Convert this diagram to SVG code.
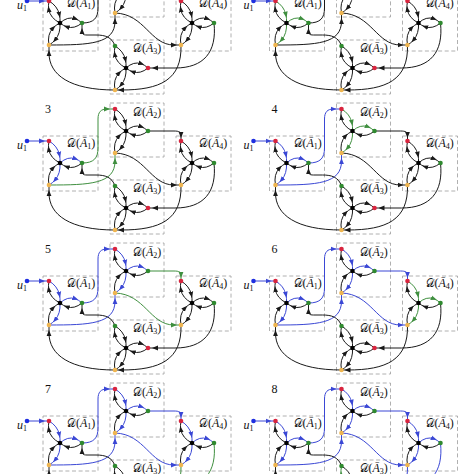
<svg xmlns="http://www.w3.org/2000/svg" width="474" height="474" viewBox="0 0 474 474">
<style>
path{fill:none;stroke-width:1}
.k{stroke:#1a1a1a;marker-end:url(#mk)}
.b{stroke:#3a47d5;marker-end:url(#mb)}
.g{stroke:#3f8f3f;marker-end:url(#mg)}
.box{fill:none;stroke:#9c9c9c;stroke-width:0.8;stroke-dasharray:4 2.6}
.lab{font-family:"Liberation Serif",serif;font-size:12px;fill:#111}
.num{font-family:"Liberation Serif",serif;font-size:12px;fill:#111;text-anchor:middle}
.cal{font-family:"DejaVu Serif","Noto Sans",serif;font-style:normal;font-size:11px}
.it{font-style:italic}
.nr{fill:#d9243e}.ng{fill:#2f8a2f}.ny{fill:#efb550}.nc{fill:#000}.nu{fill:#1f2fe0}
</style>
<defs>
<marker id="mk" viewBox="0 0 10 10" refX="5" refY="5" markerWidth="6" markerHeight="6" orient="auto" markerUnits="userSpaceOnUse"><polygon points="0,1 10,5 0,9" fill="#1a1a1a"/></marker>
<marker id="mb" viewBox="0 0 10 10" refX="5" refY="5" markerWidth="6" markerHeight="6" orient="auto" markerUnits="userSpaceOnUse"><polygon points="0,1 10,5 0,9" fill="#3a47d5"/></marker>
<marker id="mg" viewBox="0 0 10 10" refX="5" refY="5" markerWidth="6" markerHeight="6" orient="auto" markerUnits="userSpaceOnUse"><polygon points="0,1 10,5 0,9" fill="#3f8f3f"/></marker>
<g id="tc"><path d="M-11,-22 Q-2.6,-17.1 -0.57,-8.28"/><path d="M-0.57,-8.28 Q0.3,-4.5 0,0" marker-end="none"/></g>
<g id="ct"><path d="M0,0 Q-9.8,-4.9 -11.27,-13.72"/><path d="M-11.27,-13.72 Q-11.9,-17.5 -11,-22" marker-end="none"/></g>
<g id="cr"><path d="M0,0 Q7.7,-7 15.4,-4.2"/><path d="M15.4,-4.2 Q18.7,-3 22,0" marker-end="none"/></g>
<g id="rc"><path d="M22,0 Q14.3,6.3 6.6,3.78"/><path d="M6.6,3.78 Q3.3,2.7 0,0" marker-end="none"/></g>
<g id="bc"><path d="M-11,22 Q-13.1,11.5 -6.87,4.92"/><path d="M-6.87,4.92 Q-4.2,2.1 0,0" marker-end="none"/></g>
<g id="cb"><path d="M0,0 Q0.7,10.5 -4.97,17.08"/><path d="M-4.97,17.08 Q-7.4,19.9 -11,22" marker-end="none"/></g>
<g id="e1"><path d="M27,1 L42,1"/><path d="M42,1 L49,1" marker-end="none"/></g>
<g id="e2"><path d="M82,23 C94,23 98,18 98,8 L98,-21 C98,-28 101,-31 107,-31"/><path d="M107,-31 L115,-31" marker-end="none"/></g>
<g id="e3"><path d="M49,45 C90,45 115,44 115,21"/><path d="M115,21 L115,13" marker-end="none"/></g>
<g id="e4"><path d="M115,46 C112,37 105,35 96,35 L87,35 C83,35 82,34 82,31"/><path d="M82,31 L82,23" marker-end="none"/></g>
<g id="e5"><path d="M148,-9 L174,-9 C179,-9 181,-8 181,-5"/><path d="M181,-5 L181,1" marker-end="none"/></g>
<g id="e6"><path d="M115,13 C145,14 150,45 174,45"/><path d="M174,45 L181,45" marker-end="none"/></g>
<g id="e7"><path d="M214,23 C217,52 204,68 175,68 L155,68"/><path d="M155,68 L148,68" marker-end="none"/></g>
<g id="e8"><path d="M181,45 C182,80 160,90 121,90"/><path d="M121,90 L115,90" marker-end="none"/></g>
<g id="e9"><path d="M115,90 C70,90 49,75 49,53"/><path d="M49,53 L49,45" marker-end="none"/></g>
<g id="frames"><rect class="box" x="43" y="-4" width="55" height="55"/><rect class="box" x="110" y="-37" width="54" height="54"/><rect class="box" x="176" y="-4" width="55" height="55"/><rect class="box" x="110" y="40" width="54" height="54"/></g>
</defs>

<g id="panel1">
<use href="#frames"/>
<g id="p1-connectors">
<use href="#e1" class="b"/><use href="#e2" class="k"/><use href="#e3" class="k"/><use href="#e4" class="k"/><use href="#e5" class="k"/><use href="#e6" class="k"/><use href="#e7" class="k"/><use href="#e8" class="k"/><use href="#e9" class="k"/>
<use href="#tc" x="60" y="23" class="k"/><use href="#ct" x="60" y="23" class="k"/><use href="#cr" x="60" y="23" class="k"/><use href="#rc" x="60" y="23" class="k"/><use href="#bc" x="60" y="23" class="k"/><use href="#cb" x="60" y="23" class="k"/>
<use href="#tc" x="126" y="-9" class="k"/><use href="#ct" x="126" y="-9" class="k"/><use href="#cr" x="126" y="-9" class="k"/><use href="#rc" x="126" y="-9" class="k"/><use href="#bc" x="126" y="-9" class="k"/><use href="#cb" x="126" y="-9" class="k"/>
<use href="#tc" x="192" y="23" class="k"/><use href="#ct" x="192" y="23" class="k"/><use href="#cr" x="192" y="23" class="k"/><use href="#rc" x="192" y="23" class="k"/><use href="#bc" x="192" y="23" class="k"/><use href="#cb" x="192" y="23" class="k"/>
<use href="#tc" x="126" y="68" class="k"/><use href="#ct" x="126" y="68" class="k"/><use href="#cr" x="126" y="68" class="k"/><use href="#rc" x="126" y="68" class="k"/><use href="#bc" x="126" y="68" class="k"/><use href="#cb" x="126" y="68" class="k"/>
</g>
<g id="p1-u1"><circle class="nu" cx="27" cy="1" r="2.3"/><text class="lab" x="17" y="9"><tspan class="it">u</tspan><tspan font-size="8" dy="1.5">1</tspan></text></g>
<g id="p1-A1"><circle class="nr" cx="49" cy="1" r="2.3"/><circle class="nc" cx="60" cy="23" r="2.3"/><circle class="ng" cx="82" cy="23" r="2.3"/><circle class="ny" cx="49" cy="45" r="2.3"/><text class="lab" x="67" y="7"><tspan class="cal">𝒟</tspan>(<tspan class="it">Ā</tspan><tspan font-size="8" dy="2">1</tspan><tspan dy="-2">)</tspan></text></g>
<g id="p1-A2"><circle class="nr" cx="115" cy="-31" r="2.3"/><circle class="nc" cx="126" cy="-9" r="2.3"/><circle class="ng" cx="148" cy="-9" r="2.3"/><circle class="ny" cx="115" cy="13" r="2.3"/></g>
<g id="p1-A4"><circle class="nr" cx="181" cy="1" r="2.3"/><circle class="nc" cx="192" cy="23" r="2.3"/><circle class="ng" cx="214" cy="23" r="2.3"/><circle class="ny" cx="181" cy="45" r="2.3"/><text class="lab" x="199" y="7"><tspan class="cal">𝒟</tspan>(<tspan class="it">Ā</tspan><tspan font-size="8" dy="2">4</tspan><tspan dy="-2">)</tspan></text></g>
<g id="p1-A3"><circle class="ng" cx="115" cy="46" r="2.3"/><circle class="nc" cx="126" cy="68" r="2.3"/><circle class="nr" cx="148" cy="68" r="2.3"/><circle class="ny" cx="115" cy="90" r="2.3"/><text class="lab" x="133" y="52"><tspan class="cal">𝒟</tspan>(<tspan class="it">Ā</tspan><tspan font-size="8" dy="2">3</tspan><tspan dy="-2">)</tspan></text></g>
</g>

<g id="panel2" transform="translate(226.5,0)">
<use href="#frames"/>
<g id="p2-connectors">
<use href="#e1" class="b"/><use href="#e2" class="k"/><use href="#e3" class="k"/><use href="#e4" class="k"/><use href="#e5" class="k"/><use href="#e6" class="k"/><use href="#e7" class="k"/><use href="#e8" class="k"/><use href="#e9" class="k"/>
<use href="#tc" x="60" y="23" class="g"/><use href="#ct" x="60" y="23" class="k"/><use href="#cr" x="60" y="23" class="g"/><use href="#rc" x="60" y="23" class="k"/><use href="#bc" x="60" y="23" class="k"/><use href="#cb" x="60" y="23" class="g"/>
<use href="#tc" x="126" y="-9" class="k"/><use href="#ct" x="126" y="-9" class="k"/><use href="#cr" x="126" y="-9" class="k"/><use href="#rc" x="126" y="-9" class="k"/><use href="#bc" x="126" y="-9" class="k"/><use href="#cb" x="126" y="-9" class="k"/>
<use href="#tc" x="192" y="23" class="k"/><use href="#ct" x="192" y="23" class="k"/><use href="#cr" x="192" y="23" class="k"/><use href="#rc" x="192" y="23" class="k"/><use href="#bc" x="192" y="23" class="k"/><use href="#cb" x="192" y="23" class="k"/>
<use href="#tc" x="126" y="68" class="k"/><use href="#ct" x="126" y="68" class="k"/><use href="#cr" x="126" y="68" class="k"/><use href="#rc" x="126" y="68" class="k"/><use href="#bc" x="126" y="68" class="k"/><use href="#cb" x="126" y="68" class="k"/>
</g>
<g id="p2-u1"><circle class="nu" cx="27" cy="1" r="2.3"/><text class="lab" x="17" y="9"><tspan class="it">u</tspan><tspan font-size="8" dy="1.5">1</tspan></text></g>
<g id="p2-A1"><circle class="nr" cx="49" cy="1" r="2.3"/><circle class="nc" cx="60" cy="23" r="2.3"/><circle class="ng" cx="82" cy="23" r="2.3"/><circle class="ny" cx="49" cy="45" r="2.3"/><text class="lab" x="67" y="7"><tspan class="cal">𝒟</tspan>(<tspan class="it">Ā</tspan><tspan font-size="8" dy="2">1</tspan><tspan dy="-2">)</tspan></text></g>
<g id="p2-A2"><circle class="nr" cx="115" cy="-31" r="2.3"/><circle class="nc" cx="126" cy="-9" r="2.3"/><circle class="ng" cx="148" cy="-9" r="2.3"/><circle class="ny" cx="115" cy="13" r="2.3"/></g>
<g id="p2-A4"><circle class="nr" cx="181" cy="1" r="2.3"/><circle class="nc" cx="192" cy="23" r="2.3"/><circle class="ng" cx="214" cy="23" r="2.3"/><circle class="ny" cx="181" cy="45" r="2.3"/><text class="lab" x="199" y="7"><tspan class="cal">𝒟</tspan>(<tspan class="it">Ā</tspan><tspan font-size="8" dy="2">4</tspan><tspan dy="-2">)</tspan></text></g>
<g id="p2-A3"><circle class="ng" cx="115" cy="46" r="2.3"/><circle class="nc" cx="126" cy="68" r="2.3"/><circle class="nr" cx="148" cy="68" r="2.3"/><circle class="ny" cx="115" cy="90" r="2.3"/><text class="lab" x="133" y="52"><tspan class="cal">𝒟</tspan>(<tspan class="it">Ā</tspan><tspan font-size="8" dy="2">3</tspan><tspan dy="-2">)</tspan></text></g>
</g>

<g id="panel3" transform="translate(0,140)">
<text class="num" x="48" y="-27">3</text>
<use href="#frames"/>
<g id="p3-connectors">
<use href="#e1" class="b"/><use href="#e2" class="g"/><use href="#e3" class="g"/><use href="#e4" class="k"/><use href="#e5" class="k"/><use href="#e6" class="k"/><use href="#e7" class="k"/><use href="#e8" class="k"/><use href="#e9" class="k"/>
<use href="#tc" x="60" y="23" class="b"/><use href="#ct" x="60" y="23" class="k"/><use href="#cr" x="60" y="23" class="b"/><use href="#rc" x="60" y="23" class="k"/><use href="#bc" x="60" y="23" class="k"/><use href="#cb" x="60" y="23" class="b"/>
<use href="#tc" x="126" y="-9" class="k"/><use href="#ct" x="126" y="-9" class="k"/><use href="#cr" x="126" y="-9" class="k"/><use href="#rc" x="126" y="-9" class="k"/><use href="#bc" x="126" y="-9" class="k"/><use href="#cb" x="126" y="-9" class="k"/>
<use href="#tc" x="192" y="23" class="k"/><use href="#ct" x="192" y="23" class="k"/><use href="#cr" x="192" y="23" class="k"/><use href="#rc" x="192" y="23" class="k"/><use href="#bc" x="192" y="23" class="k"/><use href="#cb" x="192" y="23" class="k"/>
<use href="#tc" x="126" y="68" class="k"/><use href="#ct" x="126" y="68" class="k"/><use href="#cr" x="126" y="68" class="k"/><use href="#rc" x="126" y="68" class="k"/><use href="#bc" x="126" y="68" class="k"/><use href="#cb" x="126" y="68" class="k"/>
</g>
<g id="p3-u1"><circle class="nu" cx="27" cy="1" r="2.3"/><text class="lab" x="17" y="9"><tspan class="it">u</tspan><tspan font-size="8" dy="1.5">1</tspan></text></g>
<g id="p3-A1"><circle class="nr" cx="49" cy="1" r="2.3"/><circle class="nc" cx="60" cy="23" r="2.3"/><circle class="ng" cx="82" cy="23" r="2.3"/><circle class="ny" cx="49" cy="45" r="2.3"/><text class="lab" x="67" y="7"><tspan class="cal">𝒟</tspan>(<tspan class="it">Ā</tspan><tspan font-size="8" dy="2">1</tspan><tspan dy="-2">)</tspan></text></g>
<g id="p3-A2"><circle class="nr" cx="115" cy="-31" r="2.3"/><circle class="nc" cx="126" cy="-9" r="2.3"/><circle class="ng" cx="148" cy="-9" r="2.3"/><circle class="ny" cx="115" cy="13" r="2.3"/><text class="lab" x="133" y="-24"><tspan class="cal">𝒟</tspan>(<tspan class="it">Ā</tspan><tspan font-size="8" dy="2">2</tspan><tspan dy="-2">)</tspan></text></g>
<g id="p3-A4"><circle class="nr" cx="181" cy="1" r="2.3"/><circle class="nc" cx="192" cy="23" r="2.3"/><circle class="ng" cx="214" cy="23" r="2.3"/><circle class="ny" cx="181" cy="45" r="2.3"/><text class="lab" x="199" y="7"><tspan class="cal">𝒟</tspan>(<tspan class="it">Ā</tspan><tspan font-size="8" dy="2">4</tspan><tspan dy="-2">)</tspan></text></g>
<g id="p3-A3"><circle class="ng" cx="115" cy="46" r="2.3"/><circle class="nc" cx="126" cy="68" r="2.3"/><circle class="nr" cx="148" cy="68" r="2.3"/><circle class="ny" cx="115" cy="90" r="2.3"/><text class="lab" x="133" y="52"><tspan class="cal">𝒟</tspan>(<tspan class="it">Ā</tspan><tspan font-size="8" dy="2">3</tspan><tspan dy="-2">)</tspan></text></g>
</g>

<g id="panel4" transform="translate(226.5,140)">
<text class="num" x="48" y="-27">4</text>
<use href="#frames"/>
<g id="p4-connectors">
<use href="#e1" class="b"/><use href="#e2" class="b"/><use href="#e3" class="b"/><use href="#e4" class="k"/><use href="#e5" class="k"/><use href="#e6" class="k"/><use href="#e7" class="k"/><use href="#e8" class="k"/><use href="#e9" class="k"/>
<use href="#tc" x="60" y="23" class="b"/><use href="#ct" x="60" y="23" class="k"/><use href="#cr" x="60" y="23" class="b"/><use href="#rc" x="60" y="23" class="k"/><use href="#bc" x="60" y="23" class="k"/><use href="#cb" x="60" y="23" class="b"/>
<use href="#tc" x="126" y="-9" class="g"/><use href="#ct" x="126" y="-9" class="k"/><use href="#cr" x="126" y="-9" class="g"/><use href="#rc" x="126" y="-9" class="k"/><use href="#bc" x="126" y="-9" class="k"/><use href="#cb" x="126" y="-9" class="g"/>
<use href="#tc" x="192" y="23" class="k"/><use href="#ct" x="192" y="23" class="k"/><use href="#cr" x="192" y="23" class="k"/><use href="#rc" x="192" y="23" class="k"/><use href="#bc" x="192" y="23" class="k"/><use href="#cb" x="192" y="23" class="k"/>
<use href="#tc" x="126" y="68" class="k"/><use href="#ct" x="126" y="68" class="k"/><use href="#cr" x="126" y="68" class="k"/><use href="#rc" x="126" y="68" class="k"/><use href="#bc" x="126" y="68" class="k"/><use href="#cb" x="126" y="68" class="k"/>
</g>
<g id="p4-u1"><circle class="nu" cx="27" cy="1" r="2.3"/><text class="lab" x="17" y="9"><tspan class="it">u</tspan><tspan font-size="8" dy="1.5">1</tspan></text></g>
<g id="p4-A1"><circle class="nr" cx="49" cy="1" r="2.3"/><circle class="nc" cx="60" cy="23" r="2.3"/><circle class="ng" cx="82" cy="23" r="2.3"/><circle class="ny" cx="49" cy="45" r="2.3"/><text class="lab" x="67" y="7"><tspan class="cal">𝒟</tspan>(<tspan class="it">Ā</tspan><tspan font-size="8" dy="2">1</tspan><tspan dy="-2">)</tspan></text></g>
<g id="p4-A2"><circle class="nr" cx="115" cy="-31" r="2.3"/><circle class="nc" cx="126" cy="-9" r="2.3"/><circle class="ng" cx="148" cy="-9" r="2.3"/><circle class="ny" cx="115" cy="13" r="2.3"/><text class="lab" x="133" y="-24"><tspan class="cal">𝒟</tspan>(<tspan class="it">Ā</tspan><tspan font-size="8" dy="2">2</tspan><tspan dy="-2">)</tspan></text></g>
<g id="p4-A4"><circle class="nr" cx="181" cy="1" r="2.3"/><circle class="nc" cx="192" cy="23" r="2.3"/><circle class="ng" cx="214" cy="23" r="2.3"/><circle class="ny" cx="181" cy="45" r="2.3"/><text class="lab" x="199" y="7"><tspan class="cal">𝒟</tspan>(<tspan class="it">Ā</tspan><tspan font-size="8" dy="2">4</tspan><tspan dy="-2">)</tspan></text></g>
<g id="p4-A3"><circle class="ng" cx="115" cy="46" r="2.3"/><circle class="nc" cx="126" cy="68" r="2.3"/><circle class="nr" cx="148" cy="68" r="2.3"/><circle class="ny" cx="115" cy="90" r="2.3"/><text class="lab" x="133" y="52"><tspan class="cal">𝒟</tspan>(<tspan class="it">Ā</tspan><tspan font-size="8" dy="2">3</tspan><tspan dy="-2">)</tspan></text></g>
</g>

<g id="panel5" transform="translate(0,280)">
<text class="num" x="48" y="-27">5</text>
<use href="#frames"/>
<g id="p5-connectors">
<use href="#e1" class="b"/><use href="#e2" class="b"/><use href="#e3" class="b"/><use href="#e4" class="k"/><use href="#e5" class="g"/><use href="#e6" class="g"/><use href="#e7" class="k"/><use href="#e8" class="k"/><use href="#e9" class="k"/>
<use href="#tc" x="60" y="23" class="b"/><use href="#ct" x="60" y="23" class="k"/><use href="#cr" x="60" y="23" class="b"/><use href="#rc" x="60" y="23" class="k"/><use href="#bc" x="60" y="23" class="k"/><use href="#cb" x="60" y="23" class="b"/>
<use href="#tc" x="126" y="-9" class="b"/><use href="#ct" x="126" y="-9" class="k"/><use href="#cr" x="126" y="-9" class="b"/><use href="#rc" x="126" y="-9" class="k"/><use href="#bc" x="126" y="-9" class="k"/><use href="#cb" x="126" y="-9" class="b"/>
<use href="#tc" x="192" y="23" class="k"/><use href="#ct" x="192" y="23" class="k"/><use href="#cr" x="192" y="23" class="k"/><use href="#rc" x="192" y="23" class="k"/><use href="#bc" x="192" y="23" class="k"/><use href="#cb" x="192" y="23" class="k"/>
<use href="#tc" x="126" y="68" class="k"/><use href="#ct" x="126" y="68" class="k"/><use href="#cr" x="126" y="68" class="k"/><use href="#rc" x="126" y="68" class="k"/><use href="#bc" x="126" y="68" class="k"/><use href="#cb" x="126" y="68" class="k"/>
</g>
<g id="p5-u1"><circle class="nu" cx="27" cy="1" r="2.3"/><text class="lab" x="17" y="9"><tspan class="it">u</tspan><tspan font-size="8" dy="1.5">1</tspan></text></g>
<g id="p5-A1"><circle class="nr" cx="49" cy="1" r="2.3"/><circle class="nc" cx="60" cy="23" r="2.3"/><circle class="ng" cx="82" cy="23" r="2.3"/><circle class="ny" cx="49" cy="45" r="2.3"/><text class="lab" x="67" y="7"><tspan class="cal">𝒟</tspan>(<tspan class="it">Ā</tspan><tspan font-size="8" dy="2">1</tspan><tspan dy="-2">)</tspan></text></g>
<g id="p5-A2"><circle class="nr" cx="115" cy="-31" r="2.3"/><circle class="nc" cx="126" cy="-9" r="2.3"/><circle class="ng" cx="148" cy="-9" r="2.3"/><circle class="ny" cx="115" cy="13" r="2.3"/><text class="lab" x="133" y="-24"><tspan class="cal">𝒟</tspan>(<tspan class="it">Ā</tspan><tspan font-size="8" dy="2">2</tspan><tspan dy="-2">)</tspan></text></g>
<g id="p5-A4"><circle class="nr" cx="181" cy="1" r="2.3"/><circle class="nc" cx="192" cy="23" r="2.3"/><circle class="ng" cx="214" cy="23" r="2.3"/><circle class="ny" cx="181" cy="45" r="2.3"/><text class="lab" x="199" y="7"><tspan class="cal">𝒟</tspan>(<tspan class="it">Ā</tspan><tspan font-size="8" dy="2">4</tspan><tspan dy="-2">)</tspan></text></g>
<g id="p5-A3"><circle class="ng" cx="115" cy="46" r="2.3"/><circle class="nc" cx="126" cy="68" r="2.3"/><circle class="nr" cx="148" cy="68" r="2.3"/><circle class="ny" cx="115" cy="90" r="2.3"/><text class="lab" x="133" y="52"><tspan class="cal">𝒟</tspan>(<tspan class="it">Ā</tspan><tspan font-size="8" dy="2">3</tspan><tspan dy="-2">)</tspan></text></g>
</g>

<g id="panel6" transform="translate(226.5,280)">
<text class="num" x="48" y="-27">6</text>
<use href="#frames"/>
<g id="p6-connectors">
<use href="#e1" class="b"/><use href="#e2" class="b"/><use href="#e3" class="b"/><use href="#e4" class="k"/><use href="#e5" class="b"/><use href="#e6" class="b"/><use href="#e7" class="k"/><use href="#e8" class="k"/><use href="#e9" class="k"/>
<use href="#tc" x="60" y="23" class="b"/><use href="#ct" x="60" y="23" class="k"/><use href="#cr" x="60" y="23" class="b"/><use href="#rc" x="60" y="23" class="k"/><use href="#bc" x="60" y="23" class="k"/><use href="#cb" x="60" y="23" class="b"/>
<use href="#tc" x="126" y="-9" class="b"/><use href="#ct" x="126" y="-9" class="k"/><use href="#cr" x="126" y="-9" class="b"/><use href="#rc" x="126" y="-9" class="k"/><use href="#bc" x="126" y="-9" class="k"/><use href="#cb" x="126" y="-9" class="b"/>
<use href="#tc" x="192" y="23" class="g"/><use href="#ct" x="192" y="23" class="k"/><use href="#cr" x="192" y="23" class="g"/><use href="#rc" x="192" y="23" class="k"/><use href="#bc" x="192" y="23" class="k"/><use href="#cb" x="192" y="23" class="g"/>
<use href="#tc" x="126" y="68" class="k"/><use href="#ct" x="126" y="68" class="k"/><use href="#cr" x="126" y="68" class="k"/><use href="#rc" x="126" y="68" class="k"/><use href="#bc" x="126" y="68" class="k"/><use href="#cb" x="126" y="68" class="k"/>
</g>
<g id="p6-u1"><circle class="nu" cx="27" cy="1" r="2.3"/><text class="lab" x="17" y="9"><tspan class="it">u</tspan><tspan font-size="8" dy="1.5">1</tspan></text></g>
<g id="p6-A1"><circle class="nr" cx="49" cy="1" r="2.3"/><circle class="nc" cx="60" cy="23" r="2.3"/><circle class="ng" cx="82" cy="23" r="2.3"/><circle class="ny" cx="49" cy="45" r="2.3"/><text class="lab" x="67" y="7"><tspan class="cal">𝒟</tspan>(<tspan class="it">Ā</tspan><tspan font-size="8" dy="2">1</tspan><tspan dy="-2">)</tspan></text></g>
<g id="p6-A2"><circle class="nr" cx="115" cy="-31" r="2.3"/><circle class="nc" cx="126" cy="-9" r="2.3"/><circle class="ng" cx="148" cy="-9" r="2.3"/><circle class="ny" cx="115" cy="13" r="2.3"/><text class="lab" x="133" y="-24"><tspan class="cal">𝒟</tspan>(<tspan class="it">Ā</tspan><tspan font-size="8" dy="2">2</tspan><tspan dy="-2">)</tspan></text></g>
<g id="p6-A4"><circle class="nr" cx="181" cy="1" r="2.3"/><circle class="nc" cx="192" cy="23" r="2.3"/><circle class="ng" cx="214" cy="23" r="2.3"/><circle class="ny" cx="181" cy="45" r="2.3"/><text class="lab" x="199" y="7"><tspan class="cal">𝒟</tspan>(<tspan class="it">Ā</tspan><tspan font-size="8" dy="2">4</tspan><tspan dy="-2">)</tspan></text></g>
<g id="p6-A3"><circle class="ng" cx="115" cy="46" r="2.3"/><circle class="nc" cx="126" cy="68" r="2.3"/><circle class="nr" cx="148" cy="68" r="2.3"/><circle class="ny" cx="115" cy="90" r="2.3"/><text class="lab" x="133" y="52"><tspan class="cal">𝒟</tspan>(<tspan class="it">Ā</tspan><tspan font-size="8" dy="2">3</tspan><tspan dy="-2">)</tspan></text></g>
</g>

<g id="panel7" transform="translate(0,420)">
<text class="num" x="48" y="-27">7</text>
<use href="#frames"/>
<g id="p7-connectors">
<use href="#e1" class="b"/><use href="#e2" class="b"/><use href="#e3" class="b"/><use href="#e4" class="k"/><use href="#e5" class="b"/><use href="#e6" class="b"/><use href="#e7" class="g"/><use href="#e8" class="g"/><use href="#e9" class="k"/>
<use href="#tc" x="60" y="23" class="b"/><use href="#ct" x="60" y="23" class="k"/><use href="#cr" x="60" y="23" class="b"/><use href="#rc" x="60" y="23" class="k"/><use href="#bc" x="60" y="23" class="k"/><use href="#cb" x="60" y="23" class="b"/>
<use href="#tc" x="126" y="-9" class="b"/><use href="#ct" x="126" y="-9" class="k"/><use href="#cr" x="126" y="-9" class="b"/><use href="#rc" x="126" y="-9" class="k"/><use href="#bc" x="126" y="-9" class="k"/><use href="#cb" x="126" y="-9" class="b"/>
<use href="#tc" x="192" y="23" class="b"/><use href="#ct" x="192" y="23" class="k"/><use href="#cr" x="192" y="23" class="b"/><use href="#rc" x="192" y="23" class="k"/><use href="#bc" x="192" y="23" class="k"/><use href="#cb" x="192" y="23" class="b"/>
<use href="#tc" x="126" y="68" class="k"/><use href="#ct" x="126" y="68" class="k"/><use href="#cr" x="126" y="68" class="k"/><use href="#rc" x="126" y="68" class="k"/><use href="#bc" x="126" y="68" class="k"/><use href="#cb" x="126" y="68" class="k"/>
</g>
<g id="p7-u1"><circle class="nu" cx="27" cy="1" r="2.3"/><text class="lab" x="17" y="9"><tspan class="it">u</tspan><tspan font-size="8" dy="1.5">1</tspan></text></g>
<g id="p7-A1"><circle class="nr" cx="49" cy="1" r="2.3"/><circle class="nc" cx="60" cy="23" r="2.3"/><circle class="ng" cx="82" cy="23" r="2.3"/><circle class="ny" cx="49" cy="45" r="2.3"/><text class="lab" x="67" y="7"><tspan class="cal">𝒟</tspan>(<tspan class="it">Ā</tspan><tspan font-size="8" dy="2">1</tspan><tspan dy="-2">)</tspan></text></g>
<g id="p7-A2"><circle class="nr" cx="115" cy="-31" r="2.3"/><circle class="nc" cx="126" cy="-9" r="2.3"/><circle class="ng" cx="148" cy="-9" r="2.3"/><circle class="ny" cx="115" cy="13" r="2.3"/><text class="lab" x="133" y="-24"><tspan class="cal">𝒟</tspan>(<tspan class="it">Ā</tspan><tspan font-size="8" dy="2">2</tspan><tspan dy="-2">)</tspan></text></g>
<g id="p7-A4"><circle class="nr" cx="181" cy="1" r="2.3"/><circle class="nc" cx="192" cy="23" r="2.3"/><circle class="ng" cx="214" cy="23" r="2.3"/><circle class="ny" cx="181" cy="45" r="2.3"/><text class="lab" x="199" y="7"><tspan class="cal">𝒟</tspan>(<tspan class="it">Ā</tspan><tspan font-size="8" dy="2">4</tspan><tspan dy="-2">)</tspan></text></g>
<g id="p7-A3"><circle class="ng" cx="115" cy="46" r="2.3"/><circle class="nc" cx="126" cy="68" r="2.3"/><circle class="nr" cx="148" cy="68" r="2.3"/><circle class="ny" cx="115" cy="90" r="2.3"/><text class="lab" x="133" y="52"><tspan class="cal">𝒟</tspan>(<tspan class="it">Ā</tspan><tspan font-size="8" dy="2">3</tspan><tspan dy="-2">)</tspan></text></g>
</g>

<g id="panel8" transform="translate(226.5,420)">
<text class="num" x="48" y="-27">8</text>
<use href="#frames"/>
<g id="p8-connectors">
<use href="#e1" class="b"/><use href="#e2" class="b"/><use href="#e3" class="b"/><use href="#e4" class="k"/><use href="#e5" class="b"/><use href="#e6" class="b"/><use href="#e7" class="b"/><use href="#e8" class="b"/><use href="#e9" class="k"/>
<use href="#tc" x="60" y="23" class="b"/><use href="#ct" x="60" y="23" class="k"/><use href="#cr" x="60" y="23" class="b"/><use href="#rc" x="60" y="23" class="k"/><use href="#bc" x="60" y="23" class="k"/><use href="#cb" x="60" y="23" class="b"/>
<use href="#tc" x="126" y="-9" class="b"/><use href="#ct" x="126" y="-9" class="k"/><use href="#cr" x="126" y="-9" class="b"/><use href="#rc" x="126" y="-9" class="k"/><use href="#bc" x="126" y="-9" class="k"/><use href="#cb" x="126" y="-9" class="b"/>
<use href="#tc" x="192" y="23" class="b"/><use href="#ct" x="192" y="23" class="k"/><use href="#cr" x="192" y="23" class="b"/><use href="#rc" x="192" y="23" class="k"/><use href="#bc" x="192" y="23" class="k"/><use href="#cb" x="192" y="23" class="b"/>
<use href="#tc" x="126" y="68" class="k"/><use href="#ct" x="126" y="68" class="g"/><use href="#cr" x="126" y="68" class="k"/><use href="#rc" x="126" y="68" class="g"/><use href="#bc" x="126" y="68" class="k"/><use href="#cb" x="126" y="68" class="g"/>
</g>
<g id="p8-u1"><circle class="nu" cx="27" cy="1" r="2.3"/><text class="lab" x="17" y="9"><tspan class="it">u</tspan><tspan font-size="8" dy="1.5">1</tspan></text></g>
<g id="p8-A1"><circle class="nr" cx="49" cy="1" r="2.3"/><circle class="nc" cx="60" cy="23" r="2.3"/><circle class="ng" cx="82" cy="23" r="2.3"/><circle class="ny" cx="49" cy="45" r="2.3"/><text class="lab" x="67" y="7"><tspan class="cal">𝒟</tspan>(<tspan class="it">Ā</tspan><tspan font-size="8" dy="2">1</tspan><tspan dy="-2">)</tspan></text></g>
<g id="p8-A2"><circle class="nr" cx="115" cy="-31" r="2.3"/><circle class="nc" cx="126" cy="-9" r="2.3"/><circle class="ng" cx="148" cy="-9" r="2.3"/><circle class="ny" cx="115" cy="13" r="2.3"/><text class="lab" x="133" y="-24"><tspan class="cal">𝒟</tspan>(<tspan class="it">Ā</tspan><tspan font-size="8" dy="2">2</tspan><tspan dy="-2">)</tspan></text></g>
<g id="p8-A4"><circle class="nr" cx="181" cy="1" r="2.3"/><circle class="nc" cx="192" cy="23" r="2.3"/><circle class="ng" cx="214" cy="23" r="2.3"/><circle class="ny" cx="181" cy="45" r="2.3"/><text class="lab" x="199" y="7"><tspan class="cal">𝒟</tspan>(<tspan class="it">Ā</tspan><tspan font-size="8" dy="2">4</tspan><tspan dy="-2">)</tspan></text></g>
<g id="p8-A3"><circle class="ng" cx="115" cy="46" r="2.3"/><circle class="nc" cx="126" cy="68" r="2.3"/><circle class="nr" cx="148" cy="68" r="2.3"/><circle class="ny" cx="115" cy="90" r="2.3"/><text class="lab" x="133" y="52"><tspan class="cal">𝒟</tspan>(<tspan class="it">Ā</tspan><tspan font-size="8" dy="2">3</tspan><tspan dy="-2">)</tspan></text></g>
</g>

</svg>
